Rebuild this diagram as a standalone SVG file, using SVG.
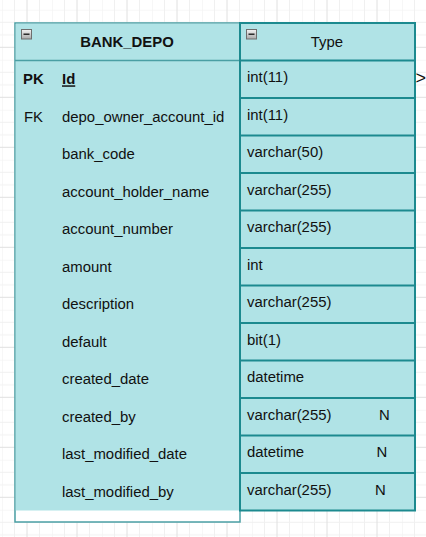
<svg xmlns="http://www.w3.org/2000/svg" width="426" height="537" viewBox="0 0 426 537">
  <style>
    .t { font-family: "Liberation Sans", Arial, sans-serif; font-size: 14.9px; fill: #111; }
    .b { font-weight: bold; }
    .row { stroke: #1c8a8f; stroke-width: 2; }
  </style>
  <defs>
    <pattern id="gx" patternUnits="userSpaceOnUse" x="2" y="9.8" width="50" height="50">
      <path d="M0 0V50M12.5 0V50M37.5 0V50M0 0H50M0 12.5H50M0 25H50" stroke="#f0f0f0" stroke-width="1" fill="none"/>
      <path d="M25 0V50M0 37.5H50" stroke="#e0e0e0" stroke-width="1" fill="none"/>
    </pattern>
    <linearGradient id="mg" x1="0" y1="0" x2="0" y2="1">
      <stop offset="0" stop-color="#f4f4f4"/>
      <stop offset="1" stop-color="#a8a8a8"/>
    </linearGradient>
    <g id="minus">
      <rect x="0.5" y="0.5" width="10" height="9.5" fill="url(#mg)" stroke="#6e6e6e" stroke-width="1"/>
      <path d="M2.5 5.2H8.5" stroke="#111" stroke-width="1.3"/>
    </g>
  </defs>
  <rect width="426" height="537" fill="#ffffff"/>
  <rect width="426" height="537" fill="url(#gx)"/>

  <g id="bank_depo">
    <rect x="15" y="23" width="225" height="499" fill="#ffffff" stroke="#4a9fa4" stroke-width="1.5"/>
    <rect x="15.75" y="23.75" width="224" height="486.75" fill="#b0e3e6"/>
    <line x1="15" y1="60.5" x2="240" y2="60.5" stroke="#4a9fa4" stroke-width="1.5"/>
    <use href="#minus" x="21" y="29"/>
    <text class="t b" x="127" y="47" text-anchor="middle">BANK_DEPO</text>
    <text class="t b" x="23" y="84.3">PK</text>
    <text class="t b" x="62" y="84.3" text-decoration="underline">Id</text>
    <text class="t" x="24" y="121.8">FK</text>
    <text class="t" x="62" y="121.8">depo_owner_account_id</text>
    <text class="t" x="62" y="159.3">bank_code</text>
    <text class="t" x="62" y="196.8">account_holder_name</text>
    <text class="t" x="62" y="234.3">account_number</text>
    <text class="t" x="62" y="271.8">amount</text>
    <text class="t" x="62" y="309.3">description</text>
    <text class="t" x="62" y="346.8">default</text>
    <text class="t" x="62" y="384.3">created_date</text>
    <text class="t" x="62" y="421.8">created_by</text>
    <text class="t" x="62" y="459.3">last_modified_date</text>
    <text class="t" x="62" y="496.8">last_modified_by</text>
  </g>

  <g id="type_column">
    <rect x="240" y="23" width="175" height="487.5" fill="#b0e3e6" stroke="#1c8a8f" stroke-width="2"/>
    <g class="row">
      <line x1="240" y1="60.5" x2="415" y2="60.5"/>
      <line x1="240" y1="98" x2="415" y2="98"/>
      <line x1="240" y1="135.5" x2="415" y2="135.5"/>
      <line x1="240" y1="173" x2="415" y2="173"/>
      <line x1="240" y1="210.5" x2="415" y2="210.5"/>
      <line x1="240" y1="248" x2="415" y2="248"/>
      <line x1="240" y1="285.5" x2="415" y2="285.5"/>
      <line x1="240" y1="323" x2="415" y2="323"/>
      <line x1="240" y1="360.5" x2="415" y2="360.5"/>
      <line x1="240" y1="398" x2="415" y2="398"/>
      <line x1="240" y1="435.5" x2="415" y2="435.5"/>
      <line x1="240" y1="473" x2="415" y2="473"/>
    </g>
    <use href="#minus" x="246" y="29"/>
    <text class="t" x="327" y="47" text-anchor="middle">Type</text>
    <text class="t" x="247" y="82.3">int(11)</text>
    <text class="t" x="247" y="119.8">int(11)</text>
    <text class="t" x="247" y="157.3">varchar(50)</text>
    <text class="t" x="247" y="194.8">varchar(255)</text>
    <text class="t" x="247" y="232.3">varchar(255)</text>
    <text class="t" x="247" y="269.8">int</text>
    <text class="t" x="247" y="307.3">varchar(255)</text>
    <text class="t" x="247" y="344.8">bit(1)</text>
    <text class="t" x="247" y="382.3">datetime</text>
    <text class="t" x="247" y="419.8">varchar(255)</text>
    <text class="t" x="379" y="419.8">N</text>
    <text class="t" x="247" y="457.3">datetime</text>
    <text class="t" x="376.5" y="457.3">N</text>
    <text class="t" x="247" y="494.8">varchar(255)</text>
    <text class="t" x="375" y="494.8">N</text>
  </g>

  <g id="connectors">
    <text class="t" x="415.5" y="84" style="font-size:18px">&gt;</text>
  </g>
</svg>
